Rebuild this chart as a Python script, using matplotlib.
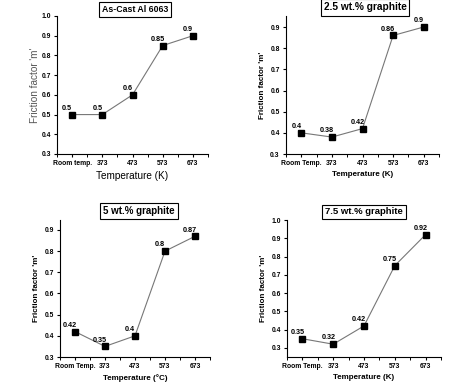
import matplotlib
matplotlib.use("Agg")
import matplotlib.pyplot as plt
import numpy as np

plt.rcParams['font.family'] = ['Liberation Sans', 'DejaVu Sans']
plt.rcParams['font.weight'] = 'bold'

temps_k = ['Room temp.', '373', '473', '573', '673']
temps_K2 = ['Room Temp.', '373', '473', '573', '673']

m_ascast = [0.5, 0.5, 0.6, 0.85, 0.9]
m_g25 = [0.4, 0.38, 0.42, 0.86, 0.9]
m_g50 = [0.42, 0.35, 0.4, 0.8, 0.87]
m_g75 = [0.35, 0.32, 0.42, 0.75, 0.92]

labels_ascast = ['0.5', '0.5', '0.6', '0.85', '0.9']
labels_g25 = ['0.4', '0.38', '0.42', '0.86', '0.9']
labels_g50 = ['0.42', '0.35', '0.4', '0.8', '0.87']
labels_g75 = ['0.35', '0.32', '0.42', '0.75', '0.92']

W, H = 474, 389
fig = plt.figure(figsize=(W/100, H/100), dpi=100)


def px_axes(l, r, t, b):
    return fig.add_axes([l/W, (H-b)/H, (r-l)/W, (b-t)/H])


def panel(ax, vals, labs, ticks, xlabel, ylim, yticks,
          lfs=5.8, lw='bold', lcol='black', ypad=3):
    x = np.arange(len(vals))
    ax.plot(x, vals, color='#777777', lw=0.8, marker='s', ms=3.7,
            mfc='black', mec='black')
    for xi, v, s in zip(x, vals, labs):
        ax.annotate(s, (xi, v), xytext=(-3.5, 2), textcoords='offset points',
                    ha='center', va='bottom', fontsize=5.2, fontweight='bold')
    ax.set_xlim(-0.47, 4.5)
    ax.set_ylim(*ylim)
    ax.set_yticks(yticks)
    ax.set_yticklabels(['%.1f' % t for t in yticks])
    ax.set_xticks(x)
    ax.set_xticks(np.arange(-0.5, 4.6, 0.5), minor=True)
    ax.set_xticklabels(ticks)
    ax.tick_params(labelsize=4.9, length=2.5, width=0.8, pad=2)
    ax.tick_params(axis='x', which='minor', length=1.8, width=0.7)
    for s in ['top', 'right']:
        ax.spines[s].set_visible(False)
    for s in ['left', 'bottom']:
        ax.spines[s].set_linewidth(0.8)
    ax.set_xlabel(xlabel, fontsize=lfs, fontweight=lw, labelpad=3)
    ax.set_ylabel("Friction factor 'm'", fontsize=lfs, fontweight=lw,
                  color=lcol, labelpad=ypad)
    return ax


ax1 = px_axes(57, 208, 16, 154)
panel(ax1, m_ascast, labels_ascast, temps_k, 'Temperature (K)',
      (0.3, 1.0), np.arange(0.3, 1.01, 0.1), lfs=7.2, lw='normal',
      lcol='#555555', ypad=1)
ax2 = px_axes(286, 439, 16, 154)
panel(ax2, m_g25, labels_g25, temps_K2, 'Temperature (K)',
      (0.3, 0.952), np.arange(0.3, 0.91, 0.1))
ax3 = px_axes(60, 210, 220, 357)
panel(ax3, m_g50, labels_g50, temps_K2, 'Temperature (\u00b0C)',
      (0.3, 0.947), np.arange(0.3, 0.91, 0.1))
ax4 = px_axes(287, 441, 220, 357)
panel(ax4, m_g75, labels_g75, temps_K2, 'Temperature (K)',
      (0.25, 1.0), np.arange(0.3, 1.01, 0.1))

box = dict(boxstyle='square,pad=0.3', fc='white', ec='black', lw=0.8)
fig.text(135/W, 1 - 9.5/H, 'As-Cast Al 6063', ha='center', va='center',
         fontsize=6.3, fontweight='bold', bbox=box)
fig.text(365/W, 1 - 7.5/H, '2.5 wt.% graphite', ha='center', va='center',
         fontsize=7.3, fontweight='bold', bbox=box)
fig.text(139/W, 1 - 211/H, '5 wt.% graphite', ha='center', va='center',
         fontsize=7.0, fontweight='bold', bbox=box)
fig.text(364/W, 1 - 212/H, '7.5 wt.% graphite', ha='center', va='center',
         fontsize=6.8, fontweight='bold', bbox=box)

fig.savefig('out.png', dpi=100)
